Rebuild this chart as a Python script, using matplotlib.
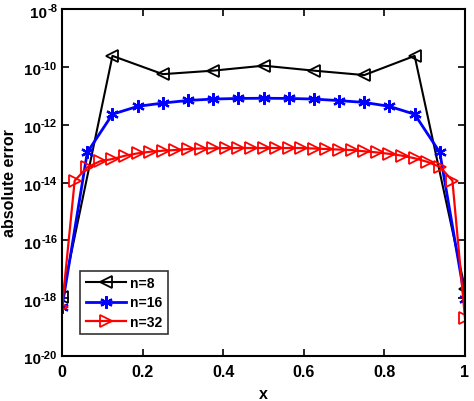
import numpy as np
import matplotlib
matplotlib.use('Agg')
import matplotlib.pyplot as plt
import matplotlib.transforms as mtransforms
from matplotlib.ticker import FixedLocator, NullFormatter

plt.rcParams['font.family'] = ['Liberation Sans', 'DejaVu Sans']
plt.rcParams['font.weight'] = 'bold'

# errors
x8 = np.linspace(0, 1, 9)
err8 = [1.1e-18, 2.4e-10, 5.6e-11, 7.4e-11, 1.1e-10, 7.4e-11, 5.2e-11, 2.4e-10, 2.1e-18]

x16 = np.linspace(0, 1, 17)
err16 = [5e-19, 1.1e-13, 2.3e-12, 4.3e-12, 5.6e-12, 6.9e-12, 7.7e-12, 8.1e-12, 8.2e-12,
         8.1e-12, 7.7e-12, 6.8e-12, 5.9e-12, 4.3e-12, 2.3e-12, 1.1e-13, 9e-19]

x32 = np.linspace(0, 1, 33)
err32 = [5e-19, 1.16e-14, 3.36e-14, 5.4e-14, 6.5e-14, 8.45e-14, 1.02e-13, 1.16e-13, 1.26e-13,
         1.33e-13, 1.44e-13, 1.5e-13, 1.53e-13, 1.55e-13, 1.56e-13, 1.56e-13, 1.56e-13,
         1.56e-13, 1.56e-13, 1.56e-13, 1.5e-13, 1.44e-13, 1.38e-13, 1.33e-13, 1.2e-13,
         1.1e-13, 9.8e-14, 8.5e-14, 6.9e-14, 5.2e-14, 3.5e-14, 1.16e-14, 2e-19]

ytick_exp = [-20, -18, -16, -14, -12, -10, -8]

fig = plt.figure(figsize=(4.74, 4.02), dpi=100)
ax = fig.add_axes([0.131, 0.112, 0.850, 0.863])

ax.semilogy(x8, err8, '-<', color='k', lw=1.5, ms=8.5, mfc='none', mew=1.3, label='n=8')
ax.semilogy(x16, err16, '-', color='b', lw=2, marker=(6, 2, 0), ms=9, mew=1.6, label='n=16')
ax.semilogy(x32, err32, '->', color='r', lw=1.6, ms=8, mfc='none', mew=1.3, label='n=32')

ax.set_xlim(0, 1)
ax.set_ylim(1e-20, 1e-8)
ax.set_xticks([0, 0.2, 0.4, 0.6, 0.8, 1])
ax.set_xticklabels(['0', '0.2', '0.4', '0.6', '0.8', '1'])
ax.yaxis.set_major_locator(FixedLocator([10.0 ** k for k in ytick_exp]))
ax.yaxis.set_minor_locator(FixedLocator([]))
ax.yaxis.set_major_formatter(NullFormatter())
ax.tick_params(direction='in', top=True, right=True, labelsize=11.5, width=1.2, length=5, pad=6)
for s in ax.spines.values():
    s.set_linewidth(1.5)

# MATLAB-like y tick labels: big base, small exponent
trans = mtransforms.blended_transform_factory(ax.transAxes, ax.transData)
renderer = fig.canvas.get_renderer()
for k in ytick_exp:
    ex = ax.annotate('%d' % k, xy=(0, 10.0 ** k), xycoords=trans, xytext=(-3.5, -1.2),
                     textcoords='offset points', ha='right', va='baseline', fontsize=8,
                     fontweight='bold')
    w = ex.get_window_extent(renderer).width * 72 / fig.dpi
    ax.annotate('10', xy=(0, 10.0 ** k), xycoords=trans, xytext=(-3.5 - w, -2.5),
                textcoords='offset points', ha='right', va='center', fontsize=11,
                fontweight='bold')

ax.set_xlabel('x', fontsize=11.5, fontweight='bold', labelpad=5)
ax.set_ylabel('absolute error', fontsize=11.5, fontweight='bold')
ax.yaxis.set_label_coords(-0.111, 0.5)

leg = ax.legend(loc='lower left', bbox_to_anchor=(0.045, 0.063), fontsize=10, frameon=True,
                fancybox=False, edgecolor='k', handlelength=2.9, borderpad=0.4,
                labelspacing=0.37, handletextpad=0.3, borderaxespad=0)
leg.get_frame().set_linewidth(1.2)

fig.savefig('out.png', dpi=100)
